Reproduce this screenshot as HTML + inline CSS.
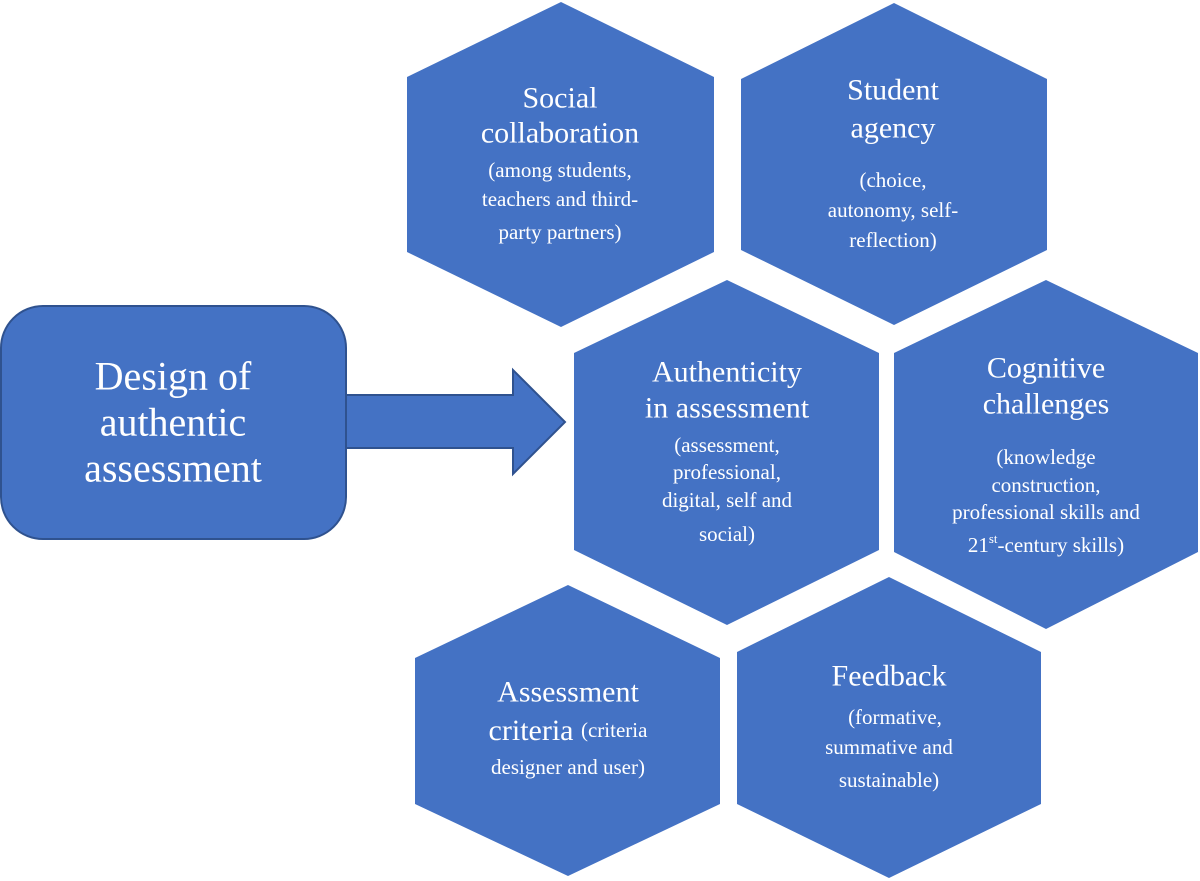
<!DOCTYPE html>
<html><head><meta charset="utf-8"><style>
html,body{margin:0;padding:0;background:#fff;}
svg{display:block}
text{font-family:"Liberation Serif",serif;fill:#fff;text-anchor:middle;dominant-baseline:central}
.t{font-size:30px}.s{font-size:21px}.b{font-size:40px}
</style></head><body>
<svg width="1200" height="881" viewBox="0 0 1200 881" xmlns="http://www.w3.org/2000/svg">
<g fill="#4472C4">
<polygon points="561,2 714,77 714,252 561,327 407,252 407,77"/>
<polygon points="894,3 1047,79 1047,250 894,325 741,250 741,79"/>
<polygon points="727,280 879,353 879,550 727,625 574,550 574,353"/>
<polygon points="1046,280 1198,353 1198,552 1046,629 894,552 894,353"/>
<polygon points="568,585 720,658 720,804 568,876 415,804 415,658"/>
<polygon points="889,577 1041,652 1041,804 889,878 737,804 737,652"/>
</g>
<rect x="1" y="306" width="345" height="233" rx="42" fill="#4472C4" stroke="#2F528F" stroke-width="2"/>
<polygon points="346,395 513,395 513,370 565,422 513,474 513,448 346,448" fill="#4472C4" stroke="#2F528F" stroke-width="2"/>
<text class="b" x="173" y="376">Design of</text>
<text class="b" x="173" y="422">authentic</text>
<text class="b" x="173" y="468">assessment</text>

<text class="t" x="560" y="98">Social</text>
<text class="t" x="560" y="133">collaboration</text>
<text class="s" x="560" y="170">(among students,</text>
<text class="s" x="560" y="199">teachers and third-</text>
<text class="s" x="560" y="232">party  partners)</text>

<text class="t" x="893" y="90">Student</text>
<text class="t" x="893" y="128">agency</text>
<text class="s" x="893" y="180">(choice,</text>
<text class="s" x="893" y="210">autonomy, self-</text>
<text class="s" x="893" y="240">reflection)</text>

<text class="t" x="727" y="372">Authenticity</text>
<text class="t" x="727" y="408">in assessment</text>
<text class="s" x="727" y="445">(assessment,</text>
<text class="s" x="727" y="472">professional,</text>
<text class="s" x="727" y="500">digital, self and</text>
<text class="s" x="727" y="534">social)</text>

<text class="t" x="1046" y="368">Cognitive</text>
<text class="t" x="1046" y="404">challenges</text>
<text class="s" x="1046" y="457">(knowledge</text>
<text class="s" x="1046" y="485">construction,</text>
<text class="s" x="1046" y="512">professional skills and</text>
<text class="s" x="1046" y="545">21<tspan font-size="13" dy="-7">st</tspan><tspan dy="7">-century skills)</tspan></text>

<text class="t" x="568" y="692">Assessment</text>
<text x="568" y="730"><tspan font-size="30">criteria </tspan><tspan font-size="21">(criteria</tspan></text>
<text class="s" x="568" y="767">designer and user)</text>

<text class="t" x="889" y="676">Feedback</text>
<text class="s" x="895" y="717">(formative,</text>
<text class="s" x="889" y="747">summative and</text>
<text class="s" x="889" y="780">sustainable)</text>
</svg>
</body></html>
